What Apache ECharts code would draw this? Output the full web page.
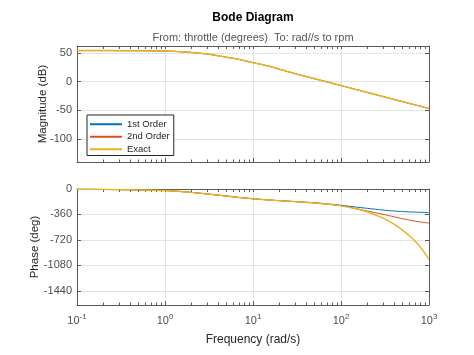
<!DOCTYPE html>
<html><head><meta charset="utf-8">
<script src="https://cdn.jsdelivr.net/npm/echarts@6/dist/echarts.min.js"></script>
<style>html,body{margin:0;padding:0;background:#fff}#c{width:474px;height:355px}</style>
</head><body><div id="c"></div>
<script>
// ---- data ----
const freq = [0.1,0.2,0.3,0.5,0.7,1,1.5,2,3,4,5,7,10,15,20,30,50,70,100,150,200,300,400,500,600,700,800,900,1000];
// magnitude is identical for the exact delay and both Pade (all-pass) approximations
const magnitudeDb = [54.0,54.0,53.9,53.8,53.5,53.1,52.1,50.8,48.0,45.1,42.5,38.5,33.0,27.0,21.5,13.9,5.1,-0.7,-6.9,-14.0,-19.0,-26.0,-31.0,-34.9,-38.0,-40.7,-43.0,-45.1,-46.9];
const phase1st = [-3,-6,-9,-13,-17,-22,-35,-48,-70,-86,-100,-120,-138,-155,-165,-178,-195,-211,-230,-256,-274,-298,-311,-319,-324,-327,-330,-332,-334];
const phase2nd = [-3,-6,-9,-13,-17,-22,-35,-48,-70,-86,-100,-120,-138,-155,-165,-178,-197,-214,-236,-278,-312,-357,-393,-420,-440,-455,-466,-475,-483];
const phaseExact = [-3,-6,-9,-13,-17,-22,-35,-48,-70,-86,-100,-120,-138,-155,-165,-178,-197,-215,-238,-283,-325,-412,-497,-582,-662,-742,-825,-910,-995];
const seriesNames = ['1st Order','2nd Order','Exact'];
const magTicks = [50,0,-50,-100];
const phaseTicks = [0,-360,-720,-1080,-1440];
const decades = [0.1,1,10,100,1000];

// ---- styling / layout ----
const FONT = '"Liberation Sans", Arial, Helvetica, sans-serif';
const AX = '#5a5a5a', GRID = '#e3e3e3', TXT = '#4d4d4d';
const COLORS = ['#0072BD','#D95319','#EDB120'];
const MAG_WIDTHS = [0.7, 0.7, 1.5];
const PH_WIDTHS = [1, 1, 1.4];
const L = 77, R = 45;
const minorTicks = [];
for (let d = 0; d < decades.length - 1; d++) for (let k = 2; k <= 9; k++) minorTicks.push(+(decades[d]*k).toPrecision(3));
const allTicks = decades.concat(minorTicks);

function pairs(ys){ return freq.map((f,i)=>[f, ys[i]]); }
const noLabel = {show:false};
function xMain(g, labels){
  return {type:'log', logBase:10, gridIndex:g, min:0.1, max:1000, position:'bottom',
    axisLine:{show:true, onZero:false, lineStyle:{color:AX}},
    axisTick:{show:true, inside:true, length:4, lineStyle:{color:AX}},
    axisLabel: labels ? {show:true, margin:8, color:TXT, fontFamily:FONT,
      formatter:v=>'{b|10}{s|'+Math.round(Math.log10(v))+'}',
      rich:{b:{fontSize:11, fontFamily:FONT, color:TXT}, s:{fontSize:8, fontFamily:FONT, color:TXT, padding:[0,0,7,0]}}} : noLabel,
    splitLine:{show:true, lineStyle:{color:GRID}},
    name: labels ? 'Frequency (rad/s)' : '', nameLocation:'middle', nameGap:29, nameMoveOverlap:false,
    nameTextStyle:{fontSize:12, fontFamily:FONT, color:'#262626'}};
}
function xMinor(g){
  return {type:'log', logBase:10, gridIndex:g, min:0.1, max:1000, position:'bottom',
    axisLine:{show:false, onZero:false}, axisTick:{show:true, inside:true, length:2.5, customValues:minorTicks, lineStyle:{color:AX}},
    axisLabel:noLabel, splitLine:{show:false}};
}
function xTop(g){
  return {type:'log', logBase:10, gridIndex:g, min:0.1, max:1000, position:'top',
    axisLine:{show:true, onZero:false, lineStyle:{color:AX}}, axisTick:{show:true, inside:true, length:3, customValues:allTicks, lineStyle:{color:AX}},
    axisLabel:noLabel, splitLine:{show:false}};
}
function yLeft(g, min, max, ticks, name, gap){
  return {type:'value', gridIndex:g, min:min, max:max, position:'left',
    axisLine:{show:true, onZero:false, lineStyle:{color:AX}},
    axisTick:{show:true, inside:true, length:4, customValues:ticks, lineStyle:{color:AX}},
    axisLabel:{show:true, customValues:ticks, margin:5, fontSize:11, fontFamily:FONT, color:TXT, formatter:v=>String(v)},
    splitLine:{show:true, lineStyle:{color:GRID}},
    name:name, nameLocation:'middle', nameGap:gap, nameMoveOverlap:false,
    nameTextStyle:{fontSize:11.5, fontFamily:FONT, color:'#262626'}};
}
function yRight(g, min, max, ticks){
  return {type:'value', gridIndex:g, min:min, max:max, position:'right',
    axisLine:{show:true, onZero:false, lineStyle:{color:AX}},
    axisTick:{show:true, inside:true, length:4, customValues:ticks, lineStyle:{color:AX}},
    axisLabel:noLabel, splitLine:{show:false}};
}
function line(name, ci, xi, yi, ys, w){
  return {type:'line', name:name, xAxisIndex:xi, yAxisIndex:yi, data:pairs(ys), showSymbol:false, symbol:'none',
    smooth:0.25, lineStyle:{width:w, color:COLORS[ci]}, itemStyle:{color:COLORS[ci]}, animation:false, z:2+ci};
}

const option = {
  animation:false,
  backgroundColor:'#fff',
  grid:[{left:L, right:R, top:46, height:116}, {left:L, right:R, top:189, height:116}],
  xAxis:[xMain(0,false), xMinor(0), xTop(0), xMain(1,true), xMinor(1), xTop(1)],
  yAxis:[yLeft(0,-140,62,magTicks,'Magnitude (dB)',28), yRight(0,-140,62,magTicks),
         yLeft(1,-1640,0,phaseTicks,'Phase (deg)',36), yRight(1,-1640,0,phaseTicks)],
  legend:{data:seriesNames, orient:'vertical', left:87, top:115, itemWidth:32, itemHeight:2, itemGap:0,
    icon:'rect', padding:[3,4,0,3], borderColor:'#262626', borderWidth:1, backgroundColor:'#fff',
    textStyle:{fontSize:9.5, fontFamily:FONT, color:'#262626', lineHeight:12.5}},
  graphic:[
    {type:'text', x:253, y:18, style:{text:'Bode Diagram', font:'bold 12px '+FONT, fill:'#000', textAlign:'center', textVerticalAlign:'middle'}},
    {type:'text', x:253, y:37.5, style:{text:'From: throttle (degrees)  To: rad//s to rpm', font:'11px '+FONT, fill:'#555', textAlign:'center', textVerticalAlign:'middle'}}
  ],
  series:[
    line(seriesNames[0],0,0,0,magnitudeDb,MAG_WIDTHS[0]), line(seriesNames[1],1,0,0,magnitudeDb,MAG_WIDTHS[1]), line(seriesNames[2],2,0,0,magnitudeDb,MAG_WIDTHS[2]),
    line(seriesNames[0],0,3,2,phase1st,PH_WIDTHS[0]), line(seriesNames[1],1,3,2,phase2nd,PH_WIDTHS[1]), line(seriesNames[2],2,3,2,phaseExact,PH_WIDTHS[2])
  ]
};
const chart = echarts.init(document.getElementById('c'));
chart.setOption(option);
</script>
</body></html>
